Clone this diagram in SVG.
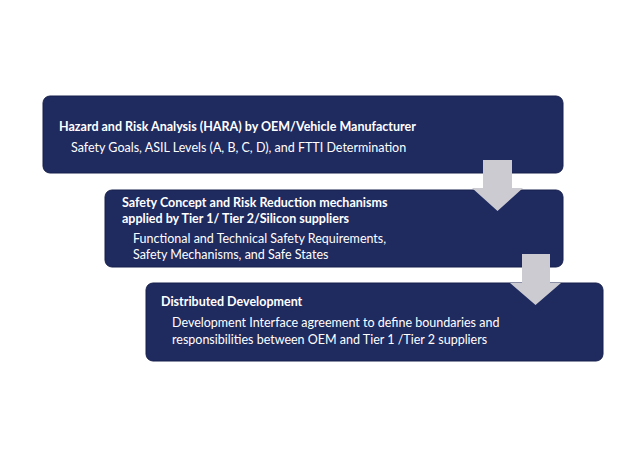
<svg xmlns="http://www.w3.org/2000/svg" width="636" height="450" viewBox="0 0 636 450">
<style>
.box{fill:#1f2a5f;stroke:#18214d;stroke-width:1}
.t{fill:#ffffff;font-family:Lato,"Open Sans","Liberation Sans",sans-serif;font-size:12.5px}
.b{font-weight:bold}
.arrow{fill:#cbcbd1}
</style>
<rect width="636" height="450" fill="#ffffff"/>
<g id="node-hara">
<rect class="box" x="43" y="96" width="520" height="77" rx="7"/>
<text class="t b" x="59" y="131">Hazard and Risk Analysis (HARA) by OEM/Vehicle Manufacturer</text>
<text class="t" x="71" y="152">Safety Goals, ASIL Levels (A, B, C, D), and FTTI Determination</text>
</g>
<g id="node-safety-concept">
<rect class="box" x="105" y="190" width="458" height="77" rx="7"/>
<text class="t b" x="122" y="207">Safety Concept and Risk Reduction mechanisms</text>
<text class="t b" x="122" y="223">applied by Tier 1/ Tier 2/Silicon suppliers</text>
<text class="t" x="133" y="243">Functional and Technical Safety Requirements,</text>
<text class="t" x="133" y="259">Safety Mechanisms, and Safe States</text>
</g>
<g id="node-distributed">
<rect class="box" x="146" y="283" width="457" height="78" rx="7"/>
<text class="t b" x="161" y="306">Distributed Development</text>
<text class="t" x="172" y="327">Development Interface agreement to define boundaries and</text>
<text class="t" x="172" y="344">responsibilities between OEM and Tier 1 /Tier 2 suppliers</text>
</g>
<g id="connectors">
<polygon class="arrow" points="483,160 512,160 512,188 523,188 497.5,211 472,188 483,188"/>
<polygon class="arrow" points="522,254 550,254 550,283 561,283 535.5,305 510,283 522,283"/>
</g>
</svg>
